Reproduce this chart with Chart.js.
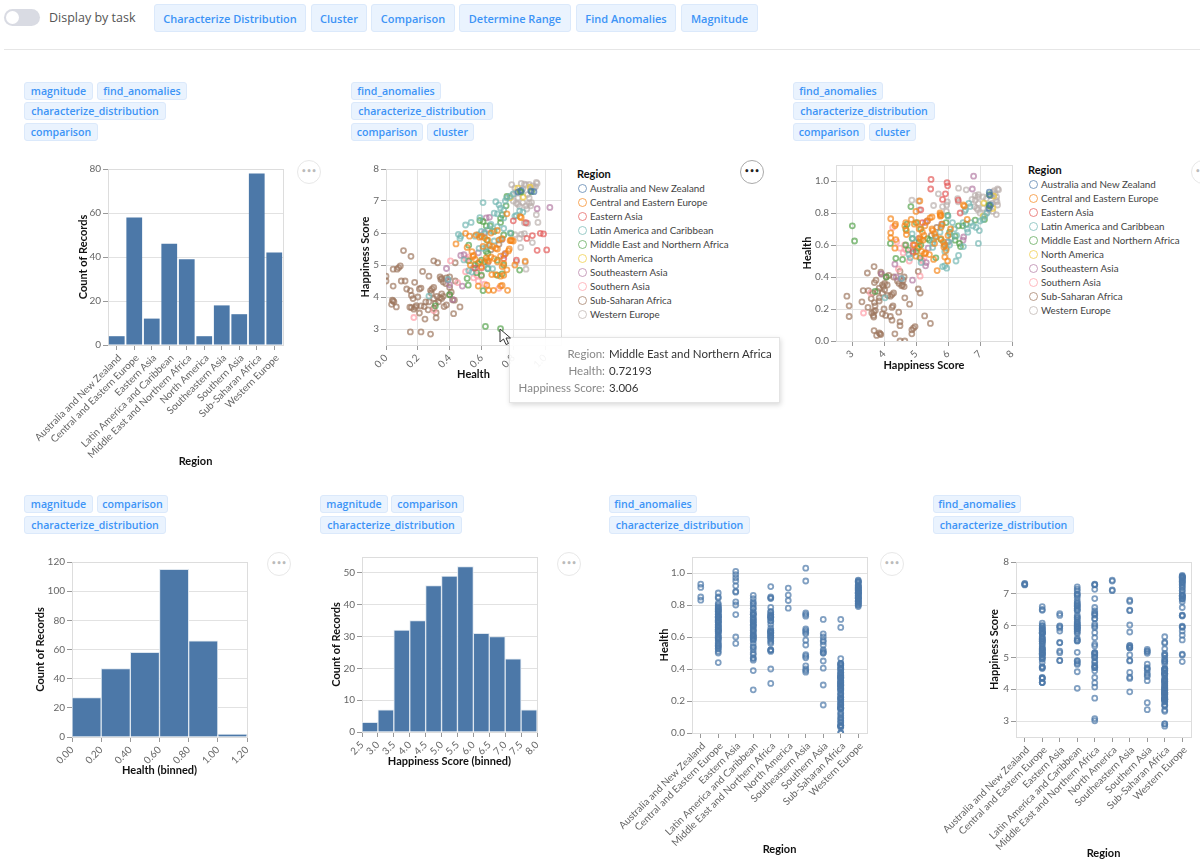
<!DOCTYPE html>
<html>
<head>
<meta charset="utf-8">
<title>Happiness charts</title>
<script src="https://cdn.jsdelivr.net/npm/chart.js@4"></script>
<style>
body { margin: 0; background: #fff; width: 1200px; height: 864px; overflow: hidden; position: relative; font-family: "Open Sans", sans-serif; }
canvas { position: absolute; }
.pill { position: absolute; box-sizing: border-box; background: #eaf3fe; border: 1px solid #dbe9fb; border-radius: 3px; color: #3d94f6; font-weight: 600; text-align: center; white-space: nowrap; }
.top { top: 4px; height: 28px; line-height: 27px; font-size: 11px; }
.sub { height: 18px; line-height: 16px; font-size: 10.6px; }
.toggle { position: absolute; left: 4px; top: 9px; width: 36px; height: 17px; border-radius: 9px; background: #d9dbe3; }
.toggle i { position: absolute; left: 2px; top: 2px; width: 13px; height: 13px; border-radius: 50%; background: #fff; }
.label { position: absolute; left: 49px; top: 9px; font-size: 12.5px; color: #555; }
.rule { position: absolute; left: 4px; right: 0; top: 49px; height: 1px; background: #e6e6e6; }
.more { position: absolute; box-sizing: border-box; width: 24px; height: 24px; border-radius: 50%; border: 1px solid #e8e8e8; background: #fff; color: #bbb; font: bold 8px/21px "DejaVu Sans", sans-serif; text-align: center; }
.more.on { border-color: #aaa; color: #222; }
.legend { position: absolute; font-family: Lato, sans-serif; font-size: 9.8px; color: #444; white-space: nowrap; }
.legend b { position: absolute; left: 0; top: -7px; font-size: 11px; color: #111; }
.legend span { position: absolute; left: 13px; line-height: 14px; }
.legend i { position: absolute; left: 1px; box-sizing: border-box; width: 9px; height: 9px; border-radius: 50%; border: 1.5px solid; opacity: .7; }
.tip { position: absolute; left: 509px; top: 337px; width: 271px; height: 66px; box-sizing: border-box; background: rgba(255,255,255,.93); border: 1px solid #e4e4e4; box-shadow: 1px 2px 5px rgba(0,0,0,.15); font-family: Lato, sans-serif; font-size: 11.5px; }
.tip div { position: absolute; white-space: nowrap; }
.tip .k { right: 174px; color: #888; }
.tip .v { left: 99px; color: #333; }
svg { position: absolute; left: 499px; top: 328px; }
</style>
</head>
<body>
<div class="toggle"><i></i></div>
<div class="label">Display by task</div>
<div class="rule"></div>
<div id="pills"></div>
<div id="mores"></div>
<canvas id="barRegion" width="261" height="307" style="left:30px;top:161px"></canvas>
<canvas id="scatterHealth" width="224" height="220" style="left:345px;top:161px"></canvas>
<canvas id="scatterScore" width="225" height="215" style="left:795px;top:157px"></canvas>
<canvas id="histHealth" width="230" height="223" style="left:25px;top:554px"></canvas>
<canvas id="histScore" width="230" height="219" style="left:315px;top:549px"></canvas>
<canvas id="stripHealth" width="260" height="307" style="left:615px;top:549px"></canvas>
<canvas id="stripScore" width="259" height="306" style="left:940px;top:554px"></canvas>
<div class="legend" id="legendA" style="left:577px;top:174px"></div>
<div class="legend" id="legendB" style="left:1028px;top:170px"></div>
<div class="tip">
  <div class="k" style="top:9px">Region:</div><div class="v" style="top:9px">Middle East and Northern Africa</div>
  <div class="k" style="top:26px">Health:</div><div class="v" style="top:26px">0.72193</div>
  <div class="k" style="top:43px">Happiness Score:</div><div class="v" style="top:43px">3.006</div>
</div>
<svg width="14" height="18" viewBox="0 0 14 18"><path d="M1 1 L1 14 L4.5 11 L7 16.5 L9.5 15.5 L7 10 L11.5 10 Z" fill="#fff" stroke="#333" stroke-width="1"/></svg>
<script>
const regions = ['Australia and New Zealand', 'Central and Eastern Europe', 'Eastern Asia', 'Latin America and Caribbean', 'Middle East and Northern Africa', 'North America', 'Southeastern Asia', 'Southern Asia', 'Sub-Saharan Africa', 'Western Europe'];
const regionColors = ['#4c78a8', '#f58518', '#e45756', '#72b7b2', '#54a24b', '#eeca3b', '#b279a2', '#ff9da6', '#9d755d', '#bab0ac'];

const regionCounts = [4, 58, 12, 46, 39, 4, 18, 14, 78, 42];
const healthBinMids = [0.1, 0.3, 0.5, 0.7, 0.9, 1.1];
const healthBinCounts = [27, 47, 58, 115, 66, 2];
const scoreBinMids = [2.75, 3.25, 3.75, 4.25, 4.75, 5.25, 5.75, 6.25, 6.75, 7.25, 7.75];
const scoreBinCounts = [3, 7, 32, 35, 46, 49, 52, 31, 30, 23, 7];

// health and happiness score per record
const healthAnz = [.93, .91, .85, .83];
const scoreAnz = [7.29, 7.31, 7.33, 7.28];
const healthCee = [.44, .50, .525, .567, .588, .54, .546, .53, .58, .634,
  .645, .676, .72, .73, .764, .77, .843, .76, .785, .79,
  .70, .64, .61, .635, .645, .73, .74, .72, .665, .69,
  .76, .81, .60, .62, .65, .67, .69, .70, .55, .56,
  .59, .63, .66, .68, .71, .73, .75, .70, .72, .74,
  .775, .66, .85, .875, .80, .78, .51, .60];
const scoreCee = [5.66, 5.99, 5.90, 5.94, 5.87, 5.42, 5.26, 5.00, 4.34, 4.37,
  4.21, 4.21, 4.34, 4.36, 4.21, 5.44, 6.51, 6.60, 5.78, 5.76,
  6.08, 5.78, 5.58, 5.15, 5.12, 4.95, 4.68, 4.65, 4.70, 4.70,
  4.85, 5.00, 5.90, 5.85, 5.62, 5.58, 5.52, 5.50, 5.30, 5.18,
  5.10, 5.22, 5.25, 5.20, 5.78, 5.82, 5.35, 5.10, 5.28, 5.05,
  5.50, 6.00, 6.48, 5.12, 5.75, 5.76, 5.55, 4.95];
const healthEastAsia = [1.01, .95, .99, .97, .92, .885, .88, .80, .82, .74, .60, .56];
const scoreEastAsia = [5.47, 5.46, 5.97, 5.99, 5.92, 5.83, 6.32, 6.38, 5.15, 5.20, 4.91, 4.90];
const healthLatam = [.27, .61, .69, .76, .84, .82, .455, .465, .50, .535,
  .59, .585, .64, .67, .71, .74, .70, .72, .68, .75,
  .78, .80, .86, .81, .39, .66, .64, .67, .60, .62,
  .58, .56, .65, .63, .61, .60, .68, .72, .74, .70,
  .78, .74, .49, .52, .54, .47];
const scoreLatam = [4.03, 6.95, 6.98, 7.09, 6.69, 6.55, 5.96, 5.83, 6.25, 6.33,
  6.48, 5.52, 4.90, 4.88, 6.88, 6.72, 6.60, 6.78, 6.62, 7.00,
  7.15, 7.22, 6.65, 6.52, 4.55, 6.27, 6.10, 6.05, 6.05, 5.98,
  5.95, 5.90, 5.60, 5.55, 5.52, 5.88, 5.75, 5.80, 6.14, 6.20,
  6.00, 6.47, 5.16, 4.82, 4.78, 5.90];
const healthMena = [.72, .625, .31, .40, .51, .517, .52, .61, .57, .60,
  .70, .73, .84, .59, .61, .63, .655, .63, .68, .76,
  .755, .72, .72, .73, .845, .85, .915, .60, .58, .56,
  .62, .74, .785, .70, .74, .634, .52, .64, .64];
const scoreMena = [3.01, 3.08, 3.72, 4.07, 4.58, 4.37, 5.62, 4.20, 4.76, 4.68,
  4.68, 4.72, 4.84, 6.39, 6.36, 6.22, 6.22, 5.42, 6.05, 7.14,
  6.85, 6.46, 6.33, 6.57, 7.30, 7.28, 7.29, 5.15, 5.05, 5.00,
  5.10, 5.94, 5.99, 5.15, 5.00, 5.78, 5.13, 4.88, 5.36];
const healthNorthAm = [.906, .862, .828, .78];
const scoreNorthAm = [7.43, 7.12, 7.40, 7.10];
const healthSeAsia = [1.03, .95, .75, .74, .73, .65, .64, .63, .62, .58, .55, .49, .48, .47, .42, .40, .39, .38];
const scoreSeAsia = [6.80, 6.76, 5.36, 5.30, 5.80, 6.49, 5.08, 6.47, 6.02, 5.38, 4.91, 5.32, 4.34, 5.30, 3.92, 4.38, 4.53, 4.89];
const healthSouthAsia = [.175, .405, .50, .50, .71, .62, .58, .55, .52, .45, .30, .60, .51, .57];
const scoreSouthAsia = [3.36, 5.13, 4.79, 5.20, 4.27, 4.40, 4.50, 4.60, 5.25, 4.45, 3.58, 4.65, 5.18, 4.68];
const healthSsa = [0, 0, .045, .11, .157, .045, .07, .08, .09, .096,
  .12, .04, .045, .035, .065, .153, .22, .28, .245, .315,
  .15, .19, .22, .21, .24, .265, .315, .18, .153, .16,
  .20, .21, .22, .23, .27, .30, .325, .435, .435, .40,
  .465, .425, .43, .42, .34, .35, .36, .345, .375, .38,
  .28, .29, .30, .285, .30, .32, .34, .35, .35, .365,
  .38, .30, .27, .25, .175, .185, .16, .71, .66, .36,
  .40, .41, .33, .31, .13, .17, .05, .40];
const scoreSsa = [4.65, 4.50, 4.34, 5.45, 5.27, 4.87, 4.87, 4.92, 4.97, 4.50,
  4.50, 3.90, 3.88, 3.77, 3.69, 2.91, 2.91, 2.84, 3.31, 3.35,
  3.68, 3.73, 3.72, 3.50, 3.70, 3.60, 3.51, 4.46, 4.20, 4.05,
  4.00, 4.25, 4.28, 4.80, 4.65, 5.13, 5.07, 5.07, 4.50, 4.63,
  3.69, 3.48, 3.90, 3.91, 4.63, 4.58, 4.47, 4.55, 4.42, 4.60,
  4.20, 4.25, 4.30, 4.12, 3.95, 4.02, 3.98, 4.10, 3.95, 3.70,
  3.75, 3.65, 3.85, 3.85, 3.62, 3.68, 3.67, 5.65, 5.48, 4.02,
  4.30, 4.15, 3.85, 3.80, 4.25, 3.95, 3.85, 4.07];
const healthWestEu = [.79, .945, .81, .85, .87, .88, .90, .92, .93, .91,
  .86, .84, .82, .80, .83, .885, .90, .915, .84, .945,
  .955, .82, .85, .84, .847, .875, .88, .92, .87, .89,
  .88, .90, .86, .83, .81, .87, .94, .89, .80, .95,
  .91, .82];
const scoreWestEu = [7.51, 7.58, 7.40, 7.55, 7.53, 7.50, 7.52, 7.47, 7.40, 7.35,
  7.38, 7.30, 7.28, 7.20, 7.10, 6.75, 6.93, 6.95, 6.83, 6.57,
  6.33, 6.93, 5.96, 5.83, 5.55, 5.08, 4.87, 5.70, 6.32, 6.30,
  6.85, 7.10, 6.95, 6.90, 5.95, 5.98, 7.45, 7.20, 7.00, 7.55,
  6.85, 5.10];

const healthByRegion = [healthAnz, healthCee, healthEastAsia, healthLatam, healthMena, healthNorthAm, healthSeAsia, healthSouthAsia, healthSsa, healthWestEu];
const scoreByRegion = [scoreAnz, scoreCee, scoreEastAsia, scoreLatam, scoreMena, scoreNorthAm, scoreSeAsia, scoreSouthAsia, scoreSsa, scoreWestEu];

const topPills = [['Characterize Distribution', 154, 152], ['Cluster', 311, 56], ['Comparison', 371, 84], ['Determine Range', 459, 112], ['Find Anomalies', 576, 100], ['Magnitude', 681, 77]];
const subPills = [
  ['magnitude', 24, 82, 69], ['find_anomalies', 97, 82, 90], ['characterize_distribution', 24, 102, 142], ['comparison', 24, 123, 74],
  ['find_anomalies', 351, 82, 90], ['characterize_distribution', 351, 102, 142], ['comparison', 351, 123, 72], ['cluster', 427, 123, 47],
  ['find_anomalies', 793, 82, 90], ['characterize_distribution', 793, 102, 142], ['comparison', 793, 123, 72], ['cluster', 869, 123, 47],
  ['magnitude', 24, 495, 69], ['comparison', 97, 495, 71], ['characterize_distribution', 24, 516, 142],
  ['magnitude', 320, 495, 68], ['comparison', 391, 495, 73], ['characterize_distribution', 320, 516, 142],
  ['find_anomalies', 609, 495, 88], ['characterize_distribution', 609, 516, 141],
  ['find_anomalies', 933, 495, 88], ['characterize_distribution', 933, 516, 141]
];
const moreButtons = [[297, 160, false], [740, 160, true], [1191, 160, false], [267, 552, false], [557, 552, false], [880, 552, false]];

const pillsDiv = document.getElementById('pills');
topPills.forEach(p => {
  pillsDiv.insertAdjacentHTML('beforeend', `<div class="pill top" style="left:${p[1]}px;width:${p[2]}px">${p[0]}</div>`);
});
subPills.forEach(p => {
  pillsDiv.insertAdjacentHTML('beforeend', `<div class="pill sub" style="left:${p[1]}px;top:${p[2]}px;width:${p[3]}px">${p[0]}</div>`);
});
moreButtons.forEach(m => {
  document.getElementById('mores').insertAdjacentHTML('beforeend', `<div class="more${m[2] ? ' on' : ''}" style="left:${m[0]}px;top:${m[1]}px">•••</div>`);
});

['legendA', 'legendB'].forEach(id => {
  let html = '<b>Region</b>';
  regions.forEach((r, i) => {
    const y = 14 * i + 10;
    html += `<i style="top:${y}px;border-color:${regionColors[i]}"></i><span style="top:${y - 3}px">${r}</span>`;
  });
  document.getElementById(id).innerHTML = html;
});

Chart.defaults.font.family = 'Lato, sans-serif';
Chart.defaults.font.size = 10;
Chart.defaults.color = '#666';
Chart.defaults.animation = false;

// frame round the plot area, like the view stroke in the original
const framePlugin = {
  id: 'frame',
  beforeDatasetsDraw(chart) {
    const a = chart.chartArea;
    chart.ctx.save();
    chart.ctx.strokeStyle = '#ddd';
    chart.ctx.lineWidth = 1;
    chart.ctx.strokeRect(a.left + 0.5, a.top + 0.5, a.width, a.height);
    chart.ctx.restore();
  }
};

function axis(extra, title, titleOffset, size) {
  const horizontal = size.h !== undefined;
  return Object.assign({
    title: {
      display: true, text: title, color: '#111',
      font: { size: 11, weight: 'bold' },
      padding: horizontal ? { top: 0, bottom: titleOffset } : { top: titleOffset, bottom: 0 }
    },
    border: { color: '#aaa' },
    grid: { color: '#e2e2e2', tickColor: '#999', tickLength: 5 },
    afterFit(scale) {
      if (horizontal) scale.height = size.h; else scale.width = size.w;
      scale.paddingLeft = scale.paddingRight = scale.paddingTop = scale.paddingBottom = 0;
    }
  }, extra);
}

function baseOptions(scales, padTop) {
  return {
    responsive: false,
    layout: { padding: { top: padTop, right: 8, left: 0, bottom: 0 } },
    plugins: { legend: { display: false }, tooltip: { enabled: false } },
    scales: scales
  };
}

function linearTicks(step, digits, rotated) {
  const t = { stepSize: step, includeBounds: false, autoSkip: false, padding: 2, callback: v => Number(v).toFixed(digits) };
  if (rotated) { t.maxRotation = 45; t.minRotation = 45; }
  return t;
}

const categoryTicks = { autoSkip: false, maxRotation: 45, minRotation: 45, padding: 2, labelOffset: 3 };
const hiddenGrid = { drawOnChartArea: false, offset: false, tickColor: '#999', tickLength: 5 };

function scatterSets(xs, ys) {
  return regions.map((r, i) => ({
    label: r,
    data: xs[i].map((v, j) => ({ x: v, y: ys[i][j] })),
    borderColor: regionColors[i] + 'b0',
    backgroundColor: 'transparent',
    pointRadius: 2.5,
    borderWidth: 1.8
  }));
}

function stripSet(values) {
  const points = [];
  regions.forEach((r, i) => values[i].forEach(v => points.push({ x: r, y: v })));
  return [{ data: points, showLine: false, borderColor: 'rgba(76,120,168,.7)', backgroundColor: 'transparent', pointRadius: 2.5, borderWidth: 1.8 }];
}

function histSet(mids, counts) {
  return [{
    data: mids.map((m, i) => ({ x: m, y: counts[i] })),
    backgroundColor: '#4c78a8', borderColor: '#dde6ef', borderWidth: 1,
    categoryPercentage: 1, barPercentage: 1
  }];
}

new Chart(document.getElementById('barRegion'), {
  type: 'bar',
  data: { labels: regions, datasets: [{ data: regionCounts, backgroundColor: '#4c78a8', categoryPercentage: 1, barPercentage: 0.9 }] },
  options: baseOptions({
    x: axis({ ticks: categoryTicks, grid: hiddenGrid }, 'Region', 0, { h: 123 }),
    y: axis({ min: 0, max: 80, ticks: { stepSize: 20, padding: 2 } }, 'Count of Records', 47, { w: 78 })
  }, 8),
  plugins: [framePlugin]
});

new Chart(document.getElementById('scatterHealth'), {
  type: 'scatter',
  data: { datasets: scatterSets(healthByRegion, scoreByRegion) },
  options: baseOptions({
    x: axis({ min: 0, max: 1.1, ticks: linearTicks(0.2, 1, true) }, 'Health', 0, { h: 36 }),
    y: axis({ min: 2.5, max: 8, ticks: linearTicks(1, 0) }, 'Happiness Score', 14, { w: 41 })
  }, 8),
  plugins: [framePlugin]
});

new Chart(document.getElementById('scatterScore'), {
  type: 'scatter',
  data: { datasets: scatterSets(scoreByRegion, healthByRegion) },
  options: baseOptions({
    x: axis({ min: 2.5, max: 8, ticks: linearTicks(1, 0, true) }, 'Happiness Score', 0, { h: 31 }),
    y: axis({ min: 0, max: 1.1, ticks: linearTicks(0.2, 1) }, 'Health', 6, { w: 41 })
  }, 8),
  plugins: [framePlugin]
});

new Chart(document.getElementById('histHealth'), {
  type: 'bar',
  data: { datasets: histSet(healthBinMids, healthBinCounts) },
  options: baseOptions({
    x: axis({ type: 'linear', offset: false, min: 0, max: 1.2, ticks: linearTicks(0.2, 2, true), grid: hiddenGrid }, 'Health (binned)', 0, { h: 40 }),
    y: axis({ min: 0, max: 120, ticks: { stepSize: 20, padding: 2 } }, 'Count of Records', 9, { w: 47 })
  }, 8),
  plugins: [framePlugin]
});

new Chart(document.getElementById('histScore'), {
  type: 'bar',
  data: { datasets: histSet(scoreBinMids, scoreBinCounts) },
  options: baseOptions({
    x: axis({ type: 'linear', offset: false, min: 2.5, max: 8, ticks: linearTicks(0.5, 1, true), grid: hiddenGrid }, 'Happiness Score (binned)', 0, { h: 36 }),
    y: axis({ min: 0, max: 55, ticks: linearTicks(10, 0) }, 'Count of Records', 15, { w: 47 })
  }, 8),
  plugins: [framePlugin]
});

new Chart(document.getElementById('stripHealth'), {
  type: 'line',
  data: { labels: regions, datasets: stripSet(healthByRegion) },
  options: baseOptions({
    x: axis({ ticks: categoryTicks, offset: true, grid: hiddenGrid }, 'Region', 0, { h: 123 }),
    y: axis({ min: 0, max: 1.1, ticks: linearTicks(0.2, 1) }, 'Health', 43, { w: 77 })
  }, 8),
  plugins: [framePlugin]
});

new Chart(document.getElementById('stripScore'), {
  type: 'line',
  data: { labels: regions, datasets: stripSet(scoreByRegion) },
  options: baseOptions({
    x: axis({ ticks: categoryTicks, offset: true, grid: hiddenGrid }, 'Region', 0, { h: 123 }),
    y: axis({ min: 2.5, max: 8, ticks: linearTicks(1, 0) }, 'Happiness Score', 48, { w: 76 })
  }, 8),
  plugins: [framePlugin]
});
</script>
</body>
</html>
